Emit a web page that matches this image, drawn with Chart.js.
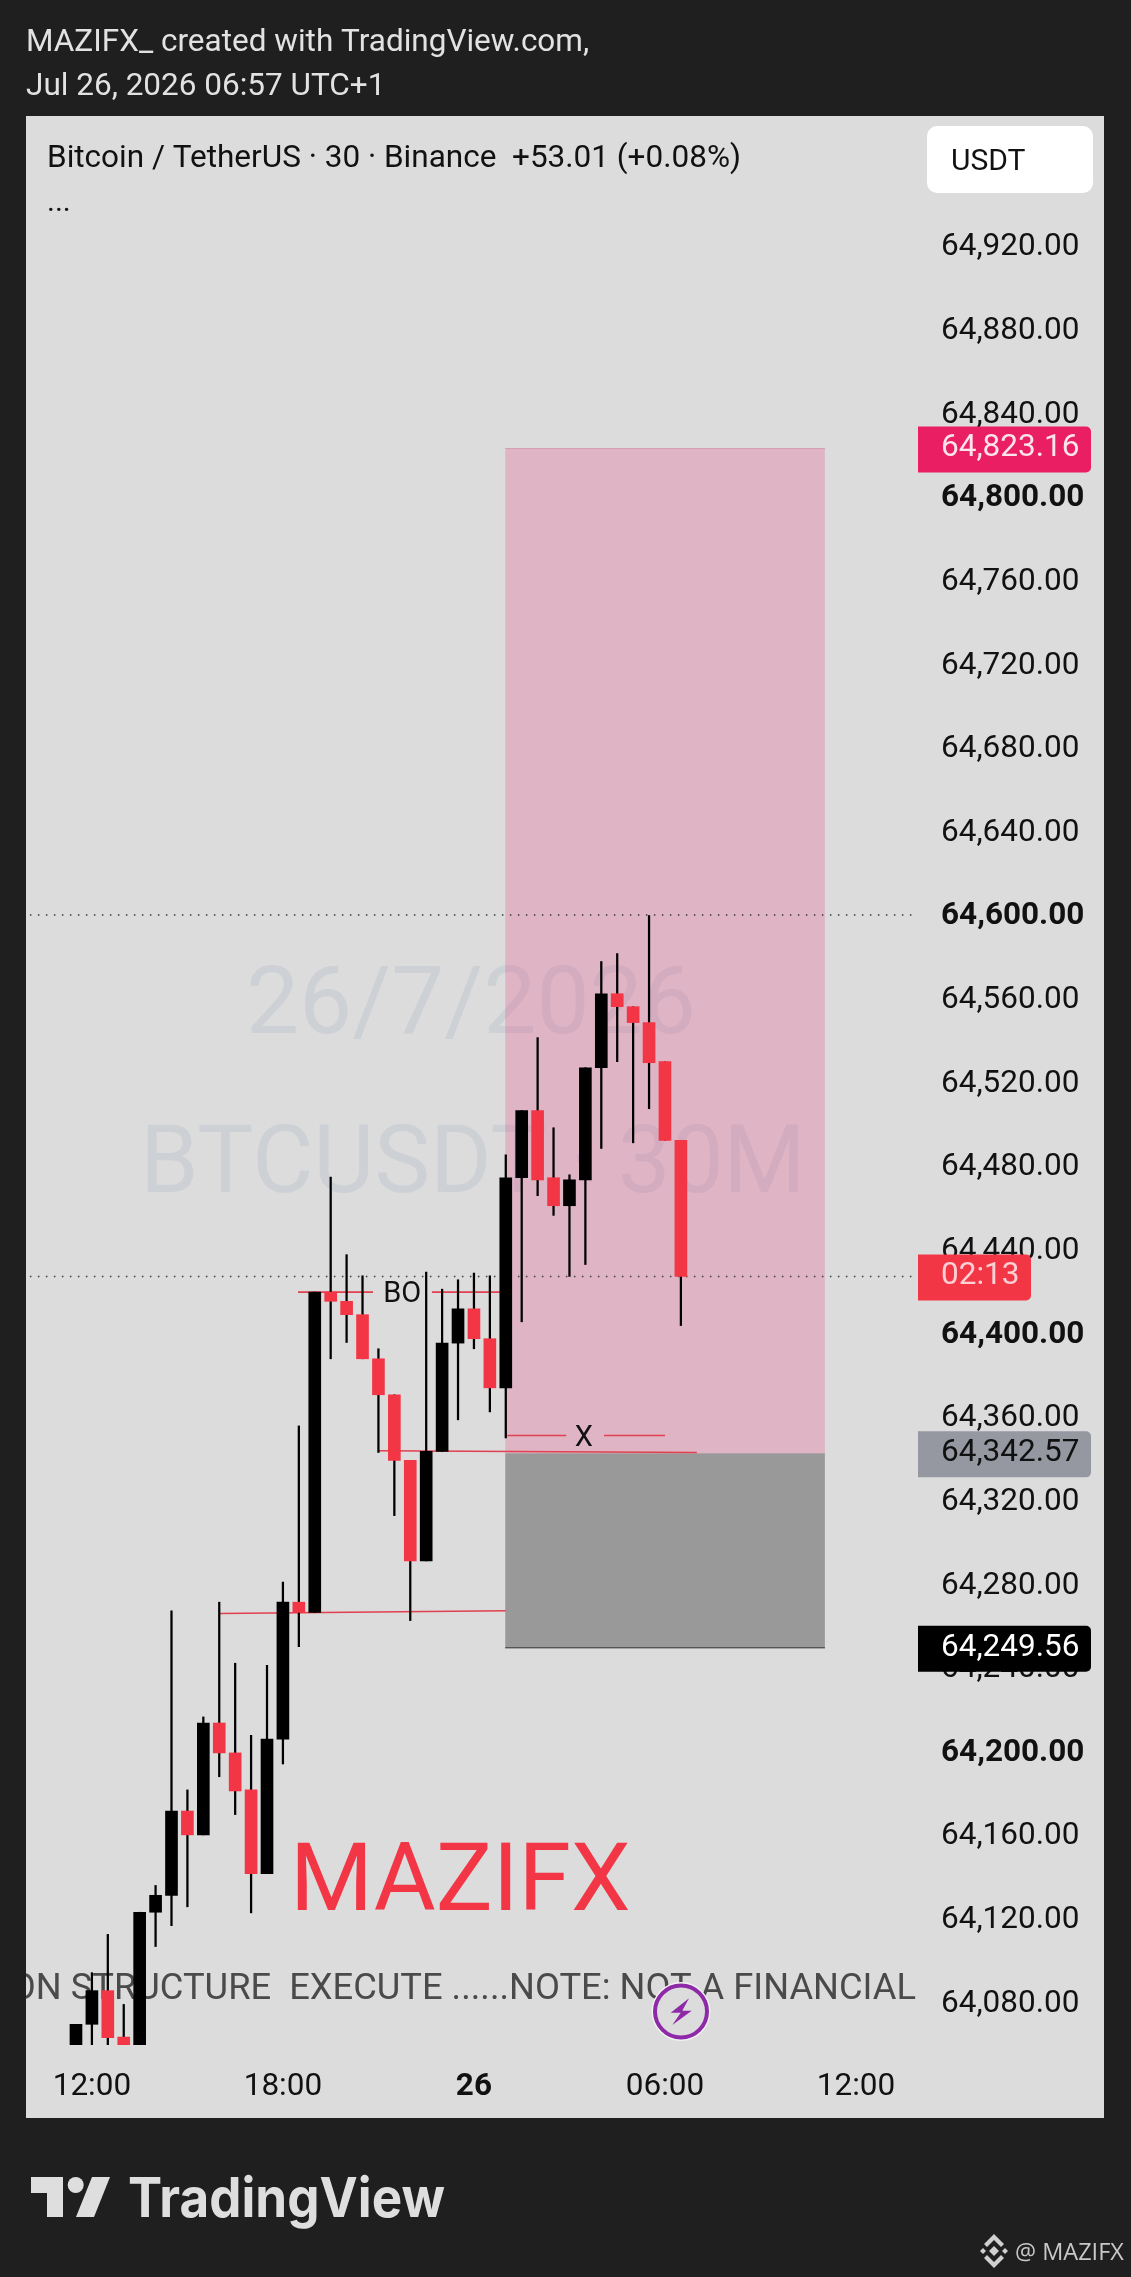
<!DOCTYPE html>
<html>
<head>
<meta charset="utf-8">
<title>BTCUSDT 30</title>
<script src="https://cdn.jsdelivr.net/npm/chart.js@4/dist/chart.umd.min.js"></script>
<style>
html, body { margin: 0; padding: 0; background: #1f1f1f; }
canvas { display: block; }
</style>
</head>
<body>
<canvas id="myChart" width="1131" height="2277"></canvas>
<script>
// candles. candle 0 is 11:30 on the 25th, one every 30 minutes
var opens = [64050, 64069.5, 64085.6, 64063.4, 64050, 64123.1, 64131.2, 64171.5, 64160.1, 64213.6,
    64199.3, 64181.6, 64141.6, 64205.9, 64271.4, 64266.5, 64419.7, 64415.3, 64408.9, 64387.8,
    64370.6, 64339.2, 64291.1, 64343.5, 64395.3, 64411.7, 64397.4, 64373.9, 64474.4, 64506.5,
    64474.4, 64461, 64473.4, 64527, 64562.4, 64556.2, 64548.6, 64529.9, 64492.3];
var highs = [64069.5, 64094.2, 64112.5, 64079, 64123.1, 64135.9, 64267.2, 64181.6, 64216.5, 64271.4,
    64242.2, 64207.7, 64241.2, 64281, 64355.7, 64419.7, 64474.7, 64437.6, 64427.5, 64392.6,
    64370.6, 64339.2, 64429.3, 64421.1, 64425.6, 64428.8, 64427.5, 64485.4, 64506.5, 64541.4,
    64498.3, 64475.8, 64527, 64577.8, 64581.6, 64556.2, 64599.8, 64529.9, 64492.3];
var lows = [64050, 64050, 64050, 64050, 64050, 64106.7, 64116.7, 64125.7, 64160.1, 64187.9,
    64169.8, 64122.8, 64141.6, 64194, 64250.1, 64266.5, 64387.8, 64395.6, 64387.8, 64343,
    64312.8, 64262.6, 64291.1, 64343.5, 64358.6, 64392.6, 64362.4, 64349.9, 64405.5, 64465.8,
    64456.4, 64427.2, 64432.9, 64488.4, 64529.9, 64491.1, 64507.4, 64492.3, 64403.7];
var closes = [64069.5, 64085.6, 64063.1, 64050, 64123.1, 64131.2, 64171.5, 64160.1, 64213.6, 64199.3,
    64181.1, 64141.6, 64205.9, 64271.4, 64266.5, 64419.7, 64415.3, 64408.9, 64387.8, 64370.6,
    64339.2, 64291.1, 64343.5, 64395.3, 64411.7, 64397.4, 64373.9, 64474.4, 64506.5, 64473.4,
    64461, 64473.4, 64527, 64562.4, 64556.2, 64548.6, 64529.4, 64492.3, 64427.2];

var timeTickValues = [1, 13, 25, 37, 49];
var timeTickLabels = ['12:00', '18:00', '26', '06:00', '12:00'];
var boldPrices = [64200, 64400, 64600, 64800];

// long position tool
var zoneStart = 26.96, zoneEnd = 47.05;
var zoneTarget = 64823.16, zoneEntry = 64342.57, zoneStop = 64249.56;
var lastPrice = 64427.2;

// hand drawn lines: [x0, y0, x1, y1]
var redLines = [
    [9, 64266, 27, 64267.3],
    [13.95, 64419.7, 18.66, 64419.7],
    [22.36, 64419.7, 26.63, 64419.7],
    [27.1, 64351.1, 30.8, 64351.1],
    [33.17, 64351.1, 37, 64351.1],
    [19, 64343.8, 39, 64343]
];
var lineLabels = ['BO', 'X'];
var lineLabelX = [20.5, 31.9];
var lineLabelY = [64419.7, 64351.1];

var tagTexts = ['64,823.16', '02:13', '64,342.57', '64,249.56'];
var tagPrices = [64823.16, 64427.2, 64342.57, 64249.56];
var tagColors = ['#e91e63', '#f23645', '#9598a1', '#000000'];
var tagTextColors = ['#fde3ec', '#fdd0d5', '#111111', '#ffffff'];

var UP = '#000000', DOWN = '#f23645';
var FONT = 'Roboto, sans-serif';
var PANEL = { left: 26, right: 1104, top: 116, bottom: 2118 };

function bg(chart) {
    var c = chart.ctx;
    c.save();
    c.fillStyle = '#1f1f1f';
    c.fillRect(0, 0, 1131, 2277);
    c.fillStyle = '#dcdcdc';
    c.fillRect(PANEL.left, PANEL.top, PANEL.right - PANEL.left, PANEL.bottom - PANEL.top);
    c.restore();
}

function txt(c, s, x, y, font, color, align, maxW) {
    c.font = font;
    c.fillStyle = color;
    c.textAlign = align || 'left';
    c.textBaseline = 'alphabetic';
    if (maxW) c.fillText(s, x, y, maxW);
    else c.fillText(s, x, y);
}

function poly(c, pts) {
    c.beginPath();
    c.moveTo(pts[0], pts[1]);
    for (var i = 2; i < pts.length; i += 2) c.lineTo(pts[i], pts[i + 1]);
    c.closePath();
    c.fill();
}

function drawLogo(c) {
    c.fillStyle = '#dedede';
    poly(c, [31, 2177, 63, 2177, 63, 2217, 47, 2217, 47, 2193, 31, 2193]);
    poly(c, [92, 2177, 110, 2177, 94, 2217, 76, 2217]);
    c.beginPath();
    c.arc(75.7, 2185, 8, 0, Math.PI * 2);
    c.fill();
    txt(c, 'TradingView', 128, 2217, '700 55px Inter, sans-serif', '#dedede', 'left', 317);
    // binance mark
    c.fillStyle = '#d0d0d0';
    poly(c, [994, 2246, 999, 2251, 994, 2256, 989, 2251]);
    poly(c, [983, 2248, 986, 2251, 983, 2254, 980, 2251]);
    poly(c, [1005, 2248, 1008, 2251, 1005, 2254, 1002, 2251]);
    poly(c, [994, 2234, 1004, 2244, 1001, 2247, 994, 2240, 987, 2247, 984, 2244]);
    poly(c, [994, 2268, 1004, 2258, 1001, 2255, 994, 2262, 987, 2255, 984, 2258]);
    txt(c, '@ MAZIFX', 1015, 2260, '23.5px "Open Sans", sans-serif', '#c8c8c8');
}

// everything that sits below the candles
var backdrop = {
    id: 'backdrop',
    beforeDraw: function (chart) {
        bg(chart);
        var c = chart.ctx;
        c.save();
        txt(c, 'MAZIFX_ created with TradingView.com,', 26, 51, '31.5px ' + FONT, '#e2e2e2');
        txt(c, 'Jul 26, 2026 06:57 UTC+1', 26, 95, '31.5px ' + FONT, '#e2e2e2');
        drawLogo(c);
        c.restore();
    },
    beforeDatasetsDraw: function (chart) {
        var c = chart.ctx, a = chart.chartArea;
        c.save();
        c.beginPath();
        c.rect(a.left, a.top, a.right - a.left, a.bottom - a.top);
        c.clip();
        txt(c, '26/7/2026', 246, 1033, '94.5px ' + FONT, '#cdd0d4');
        txt(c, 'BTCUSDT \u00b7 30M', 140, 1192, '94px ' + FONT, '#cdd0d4');
        txt(c, 'MAZIFX', 290, 1910, '95px ' + FONT, '#f23645');
        txt(c, 'ON STRUCTURE  EXECUTE ......NOTE: NOT A FINANCIAL', 916, 1999, '36.3px ' + FONT, '#4a4a4a', 'right');
        c.restore();
    },
    afterDatasetsDraw: function (chart) {
        var c = chart.ctx, xs = chart.scales.x, ys = chart.scales.y;
        c.save();
        lineLabels.forEach(function (s, i) {
            c.font = '29px ' + FONT;
            c.fillStyle = '#111111';
            c.textAlign = 'center';
            c.textBaseline = 'middle';
            c.fillText(s, xs.getPixelForValue(lineLabelX[i]), ys.getPixelForValue(lineLabelY[i]) + 3);
        });

        // price tags on the axis
        tagTexts.forEach(function (s, i) {
            var cy = ys.getPixelForValue(tagPrices[i]) + 1;
            var w = s === '02:13' ? 113 : 173;
            c.fillStyle = tagColors[i];
            c.beginPath();
            c.roundRect(918, cy - 23, w, 46, [0, 5, 5, 0]);
            c.fill();
            c.font = '31.5px ' + FONT;
            c.fillStyle = tagTextColors[i];
            c.textAlign = 'left';
            c.textBaseline = 'middle';
            c.fillText(s, 941, cy - 1);
        });

        // currency button
        c.fillStyle = '#ffffff';
        c.beginPath();
        c.roundRect(927, 126, 166, 67, 10);
        c.fill();
        txt(c, 'USDT', 951, 170, '30px ' + FONT, '#111111');

        txt(c, 'Bitcoin / TetherUS \u00b7 30 \u00b7 Binance  +53.01 (+0.08%)', 47, 167, '31.5px ' + FONT, '#111111');
        txt(c, '...', 47, 211, '30px ' + FONT, '#111111');

        // replay bolt
        c.beginPath();
        c.arc(681, 2011.5, 29.5, 0, Math.PI * 2);
        c.fillStyle = '#f2f2f2';
        c.fill();
        c.beginPath();
        c.arc(681, 2011.5, 26, 0, Math.PI * 2);
        c.fillStyle = '#dcdcdc';
        c.fill();
        c.lineWidth = 4;
        c.strokeStyle = '#8e2aa8';
        c.stroke();
        c.fillStyle = '#8e2aa8';
        poly(c, [689, 1998.3, 670.7, 2012.7, 680.7, 2012.7, 672.3, 2025, 691.7, 2010.7, 682.3, 2010.7]);
        c.restore();
    }
};

var bodyData = opens.map(function (o, i) { return { x: i, y: [o, closes[i]] }; });
var wickData = highs.map(function (h, i) { return { x: i, y: [lows[i], h] }; });
var bodyColors = opens.map(function (o, i) { return closes[i] >= o ? UP : DOWN; });

var datasets = [
    { type: 'bar', data: bodyData, backgroundColor: bodyColors, barThickness: 12, grouped: false, order: 1 },
    { type: 'bar', data: wickData, backgroundColor: '#000000', barThickness: 1.6, grouped: false, order: 2 }
];

redLines.forEach(function (l) {
    datasets.push({
        type: 'line', data: [{ x: l[0], y: l[1] }, { x: l[2], y: l[3] }],
        borderColor: '#e0404f', borderWidth: 1.6, pointRadius: 0, order: 3
    });
});

[64600, lastPrice].forEach(function (p) {
    datasets.push({
        type: 'line', data: [{ x: -3.9, y: p }, { x: 53, y: p }],
        borderColor: '#3a3a3a', borderWidth: 1.5, borderDash: [1.5, 6.5], pointRadius: 0, order: 4
    });
});

datasets.push({
    type: 'line', data: [{ x: zoneStart, y: zoneTarget }, { x: zoneEnd, y: zoneTarget }],
    borderColor: 'rgba(205,130,160,0.6)', borderWidth: 1, pointRadius: 0, fill: { value: zoneEntry }, backgroundColor: 'rgba(231,64,128,0.25)', order: 5
});
datasets.push({
    type: 'line', data: [{ x: zoneStart, y: zoneEntry }, { x: zoneEnd, y: zoneEntry }],
    borderWidth: 0, pointRadius: 0, fill: { value: zoneStop }, backgroundColor: 'rgba(0,0,0,0.3)', order: 5
});
datasets.push({
    type: 'line', data: [{ x: zoneStart, y: zoneStop }, { x: zoneEnd, y: zoneStop }],
    borderColor: '#6e6e6e', borderWidth: 1.5, pointRadius: 0, order: 5
});

var ctx = document.getElementById('myChart');

var myChart = new Chart(ctx, {
    type: 'bar',
    data: { datasets: datasets },
    plugins: [backdrop],
    options: {
        responsive: false,
        animation: false,
        devicePixelRatio: 1,
        layout: { autoPadding: false, padding: { left: 26, right: 27, top: 116, bottom: 159 } },
        plugins: { legend: { display: false }, tooltip: { enabled: false } },
        scales: {
            x: {
                type: 'linear',
                offset: false,
                min: -3.14,
                max: 52.77,
                grid: { display: false, drawTicks: false },
                border: { display: false },
                afterBuildTicks: function (scale) {
                    scale.ticks = timeTickValues.map(function (v) { return { value: v }; });
                },
                afterFit: function (scale) { scale.height = 73; },
                ticks: {
                    autoSkip: false,
                    maxRotation: 0,
                    padding: 23,
                    color: '#111111',
                    font: function (c) {
                        return { family: 'Roboto', size: 31.5, weight: c.tick && c.tick.value === 25 ? 'bold' : 'normal' };
                    },
                    callback: function (v) { return timeTickLabels[timeTickValues.indexOf(v)]; }
                }
            },
            y: {
                position: 'right',
                min: 64059.6,
                max: 64982.2,
                grid: { display: false, drawTicks: false },
                border: { display: false },
                afterFit: function (scale) { scale.width = 188; },
                ticks: {
                    stepSize: 40,
                    includeBounds: false,
                    autoSkip: false,
                    padding: 25,
                    labelOffset: 1.5,
                    color: '#111111',
                    font: function (c) {
                        var bold = c.tick && boldPrices.indexOf(c.tick.value) >= 0;
                        return { family: 'Roboto', size: 31.5, weight: bold ? 'bold' : 'normal' };
                    },
                    callback: function (v) {
                        return v.toLocaleString('en-US', { minimumFractionDigits: 2, maximumFractionDigits: 2 });
                    }
                }
            }
        }
    }
});
</script>
</body>
</html>
